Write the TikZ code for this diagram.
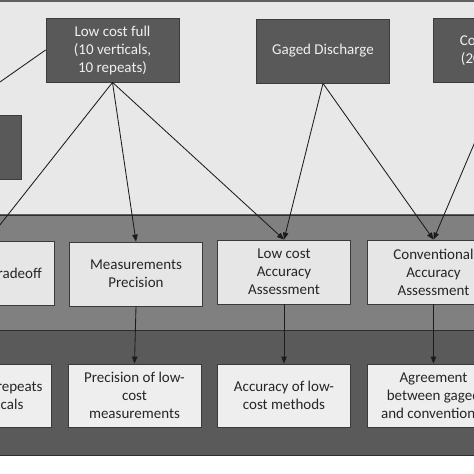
\documentclass[tikz,border=0pt]{standalone}
\usepackage{fontspec}
\setmainfont{Carlito}
\usetikzlibrary{arrows.meta}
\definecolor{bandtop}{HTML}{E8E8E8}
\definecolor{bandmid}{HTML}{808080}
\definecolor{bandbot}{HTML}{5A5A5A}
\definecolor{bandedge}{HTML}{606060}
\definecolor{bandedgedark}{HTML}{2E2E2E}
\definecolor{darkfill}{HTML}{595959}
\definecolor{darkedge}{HTML}{3C3C3C}
\definecolor{darktext}{HTML}{F0F0F0}
\definecolor{midfill}{HTML}{E6E6E6}
\definecolor{lowfill}{HTML}{EEEEEE}
\definecolor{lightedge}{HTML}{3A3A3A}
\definecolor{lighttext}{HTML}{262626}
\definecolor{linec}{HTML}{1C1C1C}
\begin{document}
\begin{tikzpicture}[x=1pt,y=-1pt,
  basebox/.style={minimum width=133pt, minimum height=64pt, inner sep=2pt, align=center, font=\fontsize{15}{18}\selectfont, line width=0.8pt},
  darkbox/.style={basebox, draw=darkedge, fill=darkfill, text=darktext},
  midbox/.style={basebox, draw=lightedge, fill=midfill, text=lighttext},
  lowbox/.style={basebox, draw=lightedge, fill=lowfill, text=lighttext, minimum height=63pt},
  plaintext/.style={text=lighttext, inner sep=0pt, font=\fontsize{15}{18}\selectfont},
  conn/.style={draw=linec, line width=0.85pt, -{Triangle[length=7pt,width=5.5pt]}},
  plainline/.style={draw=linec, line width=0.85pt}
]
\useasboundingbox (0,0) rectangle (474,474);
\clip (0,0) rectangle (474,474);
\fill[white] (0,0) rectangle (474,474);
% bands
\draw[fill=bandtop, draw=bandedge, line width=1.6pt] (-10,1) rectangle (490,215);
\draw[fill=bandmid, draw=bandedgedark, line width=0.8pt] (-10,215) rectangle (490,330);
\draw[fill=bandbot, draw=bandedgedark, line width=1pt] (-10,330) rectangle (490,455);
% top row
\node[darkbox] (lowfull) at (112.5,50) {Low cost full\\(10 verticals,\\10 repeats)};
\node[darkbox] (gaged) at (323,51) {Gaged Discharge};
\node[darkbox] (convtop) at (500,50.5) {Conventional\\(20 verticals)};
\node[darkbox] (leftbox) at (-45.5,147.5) {};
% middle row
\node[midbox] (tradeoff) at (-12.5,273) {};
\node[plaintext, anchor=east] (tradeofftext) at (42,273) {Tradeoff};
\node[midbox] (measprec) at (136,274) {Measurements\\Precision};
\node[midbox] (lowacc) at (284,272) {Low cost\\Accuracy\\Assessment};
\node[midbox] (convacc) at (433.5,272) {Conventional\\Accuracy\\Assessment};
% bottom row
\node[lowbox] (leftbot) at (-15,395.5) {Number of repeats\\and verticals};
\node[lowbox] (preclow) at (134.5,395.5) {Precision of low-\\cost\\measurements};
\node[lowbox] (acclow) at (284,395.5) {Accuracy of low-\\cost methods};
\node[lowbox] (agree) at (433.5,395.5) {Agreement\\between gaged\\and conventional};
% connectors
\coordinate (leftend) at (-20,96);
\draw[plainline] (leftend) -- (lowfull.west);
\draw[conn] (lowfull.south) -- (tradeoff.north);
\draw[conn] (lowfull.south) -- (measprec.north);
\draw[conn] (lowfull.south) -- (lowacc.north);
\draw[conn] (gaged.south) -- (lowacc.north);
\draw[conn] (gaged.south) -- (convacc.north);
\draw[conn] (convtop.south) -- (convacc.north);
\draw[conn] (measprec.south) -- (preclow.north);
\draw[conn] (lowacc.south) -- (acclow.north);
\draw[conn] (convacc.south) -- (agree.north);
\end{tikzpicture}
\end{document}
